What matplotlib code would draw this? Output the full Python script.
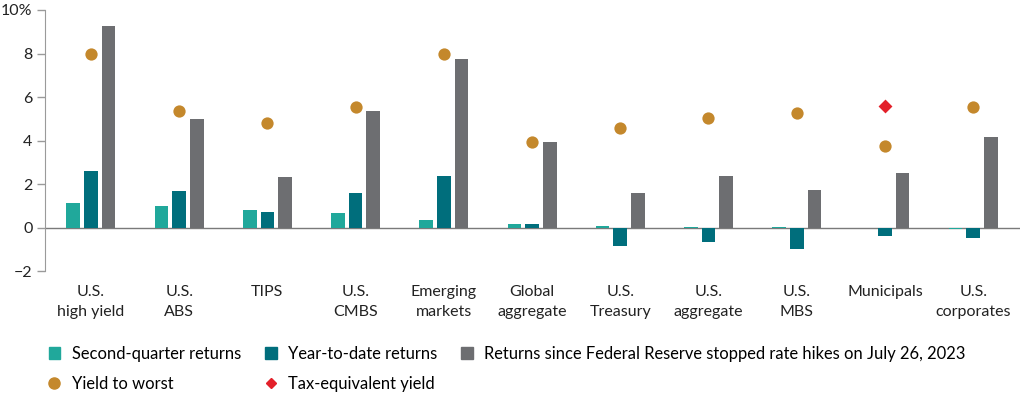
import matplotlib
matplotlib.use("Agg")
import matplotlib.pyplot as plt
import numpy as np
from matplotlib.lines import Line2D
from matplotlib.patches import Patch

plt.rcParams['font.family'] = ['Lato', 'DejaVu Sans']

categories = ["U.S.\nhigh yield", "U.S.\nABS", "TIPS", "U.S.\nCMBS", "Emerging\nmarkets",
              "Global\naggregate", "U.S.\nTreasury", "U.S.\naggregate", "U.S.\nMBS",
              "Municipals", "U.S.\ncorporates"]
q2_returns = [1.12, 0.98, 0.81, 0.69, 0.34, 0.16, 0.09, 0.05, 0.04, -0.02, -0.06]
ytd_returns = [2.62, 1.70, 0.74, 1.58, 2.36, 0.16, -0.86, -0.67, -0.98, -0.37, -0.46]
since_returns = [9.26, 5.00, 2.32, 5.35, 7.76, 3.94, 1.58, 2.39, 1.73, 2.53, 4.16]
yield_to_worst = [7.96, 5.35, 4.82, 5.54, 7.99, 3.95, 4.60, 5.05, 5.26, 3.76, 5.54]
tax_equiv_cat = ["Municipals"]
tax_equiv_yield = [5.57]
yticks = [-2, 0, 2, 4, 6, 8, 10]
ytick_labels = ["\u22122", "0", "2", "4", "6", "8", "10%"]

c_q2 = "#20A89B"
c_ytd = "#006E7C"
c_since = "#6D6E71"
c_yield = "#C4882C"
c_tax = "#E3202A"

fig = plt.figure(figsize=(10.24, 3.93), dpi=100)
ax = fig.add_axes([0.044, 0.310, 0.952, 0.6646])

x = np.arange(len(categories))
w = 0.155
ax.bar(x - 0.2, q2_returns, w, color=c_q2, zorder=2)
ax.bar(x, ytd_returns, w, color=c_ytd, zorder=2)
ax.bar(x + 0.2, since_returns, w, color=c_since, zorder=2)
ax.scatter(x, yield_to_worst, s=78, color=c_yield, zorder=3, linewidths=0)
tx = [categories.index(c) for c in tax_equiv_cat]
ax.scatter(tx, tax_equiv_yield, s=50, marker="D", color=c_tax, zorder=3, linewidths=0)

ax.axhline(0, color="#7a7a7a", lw=1.0, zorder=1)
ax.set_ylim(-2, 10)
ax.set_xlim(-0.52, 10.53)
ax.set_yticks(yticks)
ax.set_yticklabels(ytick_labels, fontsize=11.5, color="#222222")
ax.set_xticks(x)
ax.set_xticklabels(categories, fontsize=11.5, color="#222222", linespacing=1.5)
ax.tick_params(axis="x", length=0, pad=10)
ax.tick_params(axis="y", length=6, color="#9a9a9a", width=1, pad=3)
for s in ["top", "right", "bottom"]:
    ax.spines[s].set_visible(False)
ax.spines["left"].set_color("#9a9a9a")

h_q2 = Patch(color=c_q2)
h_ytd = Patch(color=c_ytd)
h_since = Patch(color=c_since)
h_yield = Line2D([], [], marker="o", color=c_yield, ls="", markersize=8)
h_tax = Line2D([], [], marker="D", color=c_tax, ls="", markersize=5.5)
handles = [h_q2, h_yield, h_ytd, h_tax, h_since]
labels = ["Second-quarter returns", "Yield to worst", "Year-to-date returns",
          "Tax-equivalent yield", "Returns since Federal Reserve stopped rate hikes on July 26, 2023"]
fig.legend(handles, labels, ncol=3, loc="upper left", bbox_to_anchor=(0.041, 0.137),
           frameon=False, fontsize=11.9, handlelength=0.7, handleheight=0.7,
           handletextpad=0.7, columnspacing=1.45, labelspacing=0.85, borderaxespad=0)

fig.savefig("out.png", dpi=100)
